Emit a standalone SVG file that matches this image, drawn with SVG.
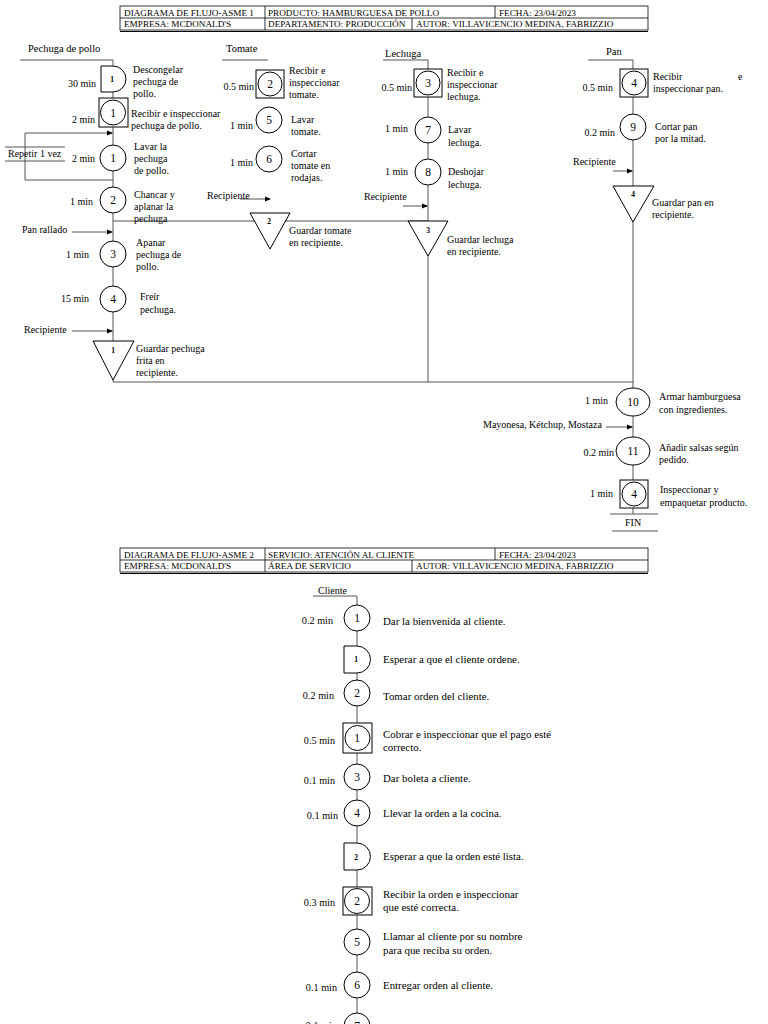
<svg xmlns="http://www.w3.org/2000/svg" width="768" height="1024" viewBox="0 0 768 1024">
<style>
text{font-family:"Liberation Serif","Times New Roman",serif;fill:#000}
.t{font-size:10px}
.t2{font-size:10.9px}
.h{font-size:9.2px}
.c{font-size:10.5px}
.r{font-size:10px;text-anchor:end}
.r2{font-size:10.2px;text-anchor:end}
.n{font-size:11.5px;text-anchor:middle}
.s{font-size:7.5px;font-weight:bold;text-anchor:middle}
.ln{stroke:#555;stroke-width:1;fill:none}
.sh{stroke:#000;stroke-width:1;fill:#fff}
.tb{stroke:#000;stroke-width:0.8;fill:none}
</style>
<defs>
<marker id="ar" markerWidth="6" markerHeight="6" refX="5" refY="3" orient="auto" markerUnits="userSpaceOnUse"><path d="M0,0.5 L6,3 L0,5.5 Z" fill="#000"/></marker>
</defs>
<rect width="768" height="1024" fill="#fff"/>

<g id="header1">
<rect class="tb" x="120" y="6" width="528" height="24"/>
<line class="tb" x1="120" y1="18" x2="648" y2="18"/>
<line class="tb" x1="265" y1="6" x2="265" y2="30"/>
<line class="tb" x1="495" y1="6" x2="495" y2="18"/>
<line class="tb" x1="412" y1="18" x2="412" y2="30"/>
<line stroke="#000" stroke-width="1.2" x1="120" y1="31.5" x2="648" y2="31.5"/>
<text class="h" x="124" y="15.5">DIAGRAMA DE FLUJO-ASME 1</text>
<text class="h" x="268" y="15.5">PRODUCTO: HAMBURGUESA DE POLLO</text>
<text class="h" x="499" y="15.5">FECHA: 23/04/2023</text>
<text class="h" x="124" y="27">EMPRESA: MCDONALD'S</text>
<text class="h" x="268" y="27">DEPARTAMENTO: PRODUCCIÓN</text>
<text class="h" x="416" y="27">AUTOR: VILLAVICENCIO MEDINA, FABRIZZIO</text>
</g>

<g id="connectors">
<polyline class="ln" points="20,60 113,60 113,382 633,382"/>
<polyline class="ln" points="222,60 268,60"/>
<polyline class="ln" points="383,60 428,60 428,382"/>
<polyline class="ln" points="588,60 633,60 633,514"/>
<line class="ln" x1="113" y1="221" x2="428" y2="221"/>
<polyline class="ln" points="113,180 25,180 25,133 112,133" marker-end="url(#ar)"/>
<line class="ln" x1="5" y1="147" x2="65" y2="147"/>
<line class="ln" x1="5" y1="161" x2="65" y2="161"/>
<line class="ln" x1="72" y1="232" x2="112" y2="232" marker-end="url(#ar)"/>
<line class="ln" x1="72" y1="331" x2="112" y2="331" marker-end="url(#ar)"/>
<line class="ln" x1="240" y1="199" x2="270" y2="199" marker-end="url(#ar)"/>
<line class="ln" x1="403" y1="206" x2="427" y2="206" marker-end="url(#ar)"/>
<line class="ln" x1="613" y1="171" x2="632" y2="171" marker-end="url(#ar)"/>
<line class="ln" x1="606" y1="427" x2="632" y2="427" marker-end="url(#ar)"/>
<line class="ln" x1="610" y1="514" x2="658" y2="514"/>
<line class="ln" x1="612" y1="531" x2="658" y2="531"/>
<polyline class="ln" points="313,596 357,596 357,1024"/>
</g>

<g id="labels1">
<text class="c" x="28" y="52">Pechuga de pollo</text>
<text class="c" x="226" y="52">Tomate</text>
<text class="c" x="385" y="57">Lechuga</text>
<text class="c" x="606" y="55">Pan</text>
<text class="t" x="8" y="157">Repetir 1 vez</text>
<text class="t" x="22" y="233">Pan rallado</text>
<text class="t" x="24" y="333">Recipiente</text>
<text class="t" x="207" y="199">Recipiente</text>
<text class="t" x="364" y="200">Recipiente</text>
<text class="t" x="573" y="165">Recipiente</text>
<text class="t" x="483" y="428">Mayonesa, Kétchup, Mostaza</text>
<text class="t" x="625" y="526">FIN</text>
</g>

<g id="p-desc">
<path class="sh" d="M101,66 H113 A13,13 0 0 1 113,92 H101 Z"/>
<text class="s" x="112" y="82">1</text>
<text class="r" x="96" y="87">30 min</text>
<text class="t" x="133" y="73">Descongelar</text><text class="t" x="133" y="85">pechuga de</text><text class="t" x="133" y="97">pollo.</text>
</g>
<g id="p-insp1">
<rect class="sh" x="99" y="98" width="29" height="29"/><circle class="sh" cx="113" cy="112.5" r="12.5"/>
<text class="n" x="113" y="116.5">1</text>
<text class="r" x="95" y="123">2 min</text>
<text class="t" x="131" y="117">Recibir e inspeccionar</text><text class="t" x="131" y="129">pechuga de pollo.</text>
</g>
<g id="p-op1">
<circle class="sh" cx="113" cy="158" r="13"/><text class="n" x="113" y="162">1</text>
<text class="r" x="95" y="162">2 min</text>
<text class="t" x="134" y="150">Lavar la</text><text class="t" x="134" y="162">pechuga</text><text class="t" x="134" y="174">de pollo.</text>
</g>
<g id="p-op2">
<circle class="sh" cx="113" cy="200" r="13"/><text class="n" x="113" y="204">2</text>
<text class="r" x="93" y="205">1 min</text>
<text class="t" x="134" y="198">Chancar y</text><text class="t" x="134" y="210">aplanar la</text><text class="t" x="134" y="222">pechuga</text>
</g>
<g id="p-op3">
<circle class="sh" cx="113" cy="254" r="13"/><text class="n" x="113" y="258">3</text>
<text class="r" x="89" y="258">1 min</text>
<text class="t" x="136" y="246">Apanar</text><text class="t" x="136" y="258">pechuga de</text><text class="t" x="136" y="270">pollo.</text>
</g>
<g id="p-op4">
<circle class="sh" cx="113" cy="299" r="13"/><text class="n" x="113" y="303">4</text>
<text class="r" x="89" y="302">15 min</text>
<text class="t" x="140" y="300">Freír</text><text class="t" x="140" y="313">pechuga.</text>
</g>
<g id="p-alm1">
<polygon class="sh" points="93,341 134,341 113,380"/><text class="s" x="113" y="353">1</text>
<text class="t" x="136" y="352">Guardar pechuga</text><text class="t" x="136" y="364">frita en</text><text class="t" x="136" y="376">recipiente.</text>
</g>

<g id="t-insp2">
<rect class="sh" x="256" y="70" width="28" height="28"/><circle class="sh" cx="270" cy="84" r="12"/>
<text class="n" x="270" y="88">2</text>
<text class="r" x="254" y="90">0.5 min</text>
<text class="t" x="289" y="74">Recibir e</text><text class="t" x="289" y="86">inspeccionar</text><text class="t" x="289" y="98">tomate.</text>
</g>
<g id="t-op5">
<circle class="sh" cx="269" cy="120" r="13"/><text class="n" x="269" y="124">5</text>
<text class="r" x="253" y="129">1 min</text>
<text class="t" x="291" y="123">Lavar</text><text class="t" x="291" y="135">tomate.</text>
</g>
<g id="t-op6">
<circle class="sh" cx="269" cy="159" r="13"/><text class="n" x="269" y="163">6</text>
<text class="r" x="253" y="166">1 min</text>
<text class="t" x="291" y="157">Cortar</text><text class="t" x="291" y="169">tomate en</text><text class="t" x="291" y="181">rodajas.</text>
</g>
<g id="t-alm2">
<polygon class="sh" points="250,213 290,213 270,249"/><text class="s" x="269" y="224">2</text>
<text class="t" x="289" y="234">Guardar tomate</text><text class="t" x="289" y="246">en recipiente.</text>
</g>

<g id="l-insp3">
<rect class="sh" x="414" y="69" width="28" height="28"/><circle class="sh" cx="428" cy="83" r="12"/>
<text class="n" x="428" y="87">3</text>
<text class="r" x="412" y="91">0.5 min</text>
<text class="t" x="447" y="76">Recibir e</text><text class="t" x="447" y="88">inspeccionar</text><text class="t" x="447" y="100">lechuga.</text>
</g>
<g id="l-op7">
<circle class="sh" cx="428" cy="130" r="13"/><text class="n" x="428" y="134">7</text>
<text class="r" x="408" y="132">1 min</text>
<text class="t" x="448" y="133">Lavar</text><text class="t" x="448" y="146">lechuga.</text>
</g>
<g id="l-op8">
<circle class="sh" cx="428" cy="172" r="13"/><text class="n" x="428" y="176">8</text>
<text class="r" x="408" y="175">1 min</text>
<text class="t" x="448" y="175">Deshojar</text><text class="t" x="448" y="188">lechuga.</text>
</g>
<g id="l-alm3">
<polygon class="sh" points="408,221 448,221 428,256"/><text class="s" x="428" y="233">3</text>
<text class="t" x="447" y="243">Guardar lechuga</text><text class="t" x="447" y="255">en recipiente.</text>
</g>

<g id="b-insp4">
<rect class="sh" x="620" y="69" width="28" height="28"/><circle class="sh" cx="634" cy="83" r="12"/>
<text class="n" x="634" y="87">4</text>
<text class="r" x="613" y="91">0.5 min</text>
<text class="t" x="653" y="80">Recibir</text><text class="t" x="738" y="80">e</text><text class="t" x="653" y="92">inspeccionar pan.</text>
</g>
<g id="b-op9">
<circle class="sh" cx="633" cy="127" r="13"/><text class="n" x="633" y="131">9</text>
<text class="r" x="615" y="136">0.2 min</text>
<text class="t" x="655" y="130">Cortar pan</text><text class="t" x="655" y="142">por la mitad.</text>
</g>
<g id="b-alm4">
<polygon class="sh" points="613,186 654,186 633,222"/><text class="s" x="633" y="197">4</text>
<text class="t" x="652" y="206">Guardar pan en</text><text class="t" x="652" y="218">recipiente.</text>
</g>

<g id="a-op10">
<ellipse class="sh" cx="633" cy="402" rx="17" ry="14"/><text class="n" x="633" y="406">10</text>
<text class="r" x="608" y="404">1 min</text>
<text class="t" x="659" y="400">Armar hamburguesa</text><text class="t" x="659" y="413">con ingredientes.</text>
</g>
<g id="a-op11">
<ellipse class="sh" cx="633" cy="451" rx="17" ry="14"/><text class="n" x="633" y="455">11</text>
<text class="r" x="614" y="456">0.2 min</text>
<text class="t" x="659" y="451">Añadir salsas según</text><text class="t" x="659" y="463">pedido.</text>
</g>
<g id="a-insp4">
<rect class="sh" x="620" y="480" width="28" height="28"/><circle class="sh" cx="634" cy="494" r="12"/>
<text class="n" x="634" y="498">4</text>
<text class="r" x="613" y="497">1 min</text>
<text class="t" x="660" y="493">Inspeccionar y</text><text class="t" x="660" y="506">empaquetar producto.</text>
</g>

<g id="header2">
<rect class="tb" x="120" y="548" width="528" height="24"/>
<line class="tb" x1="120" y1="560" x2="648" y2="560"/>
<line class="tb" x1="265" y1="548" x2="265" y2="572"/>
<line class="tb" x1="495" y1="548" x2="495" y2="560"/>
<line class="tb" x1="412" y1="560" x2="412" y2="572"/>
<line stroke="#000" stroke-width="1.2" x1="120" y1="573.5" x2="648" y2="573.5"/>
<text class="h" x="124" y="557.5">DIAGRAMA DE FLUJO-ASME 2</text>
<text class="h" x="268" y="557.5">SERVICIO: ATENCIÓN AL CLIENTE</text>
<text class="h" x="499" y="557.5">FECHA: 23/04/2023</text>
<text class="h" x="124" y="569">EMPRESA: MCDONALD'S</text>
<text class="h" x="268" y="569">ÁREA DE SERVICIO</text>
<text class="h" x="416" y="569">AUTOR: VILLAVICENCIO MEDINA, FABRIZZIO</text>
</g>

<text class="t" x="318" y="594">Cliente</text>

<g id="c-op1">
<circle class="sh" cx="357" cy="618" r="13"/><text class="n" x="357" y="622">1</text>
<text class="r2" x="333" y="624">0.2 min</text>
<text class="t2" x="383" y="625">Dar la bienvenida al cliente.</text>
</g>
<g id="c-d1">
<path class="sh" d="M344,646 H357 A13.5,13.5 0 0 1 357,673 H344 Z"/><text class="s" x="356" y="662">1</text>
<text class="t2" x="383" y="663">Esperar a que el cliente ordene.</text>
</g>
<g id="c-op2">
<circle class="sh" cx="357" cy="693" r="13"/><text class="n" x="357" y="697">2</text>
<text class="r2" x="334" y="699">0.2 min</text>
<text class="t2" x="383" y="700">Tomar orden del cliente.</text>
</g>
<g id="c-insp1">
<rect class="sh" x="343" y="723" width="29" height="30"/><circle class="sh" cx="357.5" cy="738" r="12.5"/>
<text class="n" x="357" y="742">1</text>
<text class="r2" x="335" y="744">0.5 min</text>
<text class="t2" x="383" y="738">Cobrar e inspeccionar que el pago esté</text><text class="t2" x="383" y="751">correcto.</text>
</g>
<g id="c-op3">
<circle class="sh" cx="357" cy="777" r="13"/><text class="n" x="357" y="781">3</text>
<text class="r2" x="335" y="784">0.1 min</text>
<text class="t2" x="383" y="782">Dar boleta a cliente.</text>
</g>
<g id="c-op4">
<circle class="sh" cx="357" cy="813" r="13"/><text class="n" x="357" y="817">4</text>
<text class="r2" x="338" y="819">0.1 min</text>
<text class="t2" x="383" y="817">Llevar la orden a la cocina.</text>
</g>
<g id="c-d2">
<path class="sh" d="M344,843 H357 A13.5,13.5 0 0 1 357,870 H344 Z"/><text class="s" x="356" y="860">2</text>
<text class="t2" x="383" y="860">Esperar a que la orden esté lista.</text>
</g>
<g id="c-insp2">
<rect class="sh" x="343" y="887" width="29" height="28"/><circle class="sh" cx="357" cy="901" r="12.5"/>
<text class="n" x="357" y="905">2</text>
<text class="r2" x="335" y="906">0.3 min</text>
<text class="t2" x="383" y="898">Recibir la orden e inspeccionar</text><text class="t2" x="383" y="911">que esté correcta.</text>
</g>
<g id="c-op5">
<circle class="sh" cx="357" cy="942" r="13"/><text class="n" x="357" y="946">5</text>
<text class="t2" x="383" y="940">Llamar al cliente por su nombre</text><text class="t2" x="383" y="954">para que reciba su orden.</text>
</g>
<g id="c-op6">
<circle class="sh" cx="357" cy="985" r="13"/><text class="n" x="357" y="989">6</text>
<text class="r2" x="337" y="991">0.1 min</text>
<text class="t2" x="383" y="989">Entregar orden al cliente.</text>
</g>
<g id="c-op7">
<circle class="sh" cx="357" cy="1026" r="13"/><text class="n" x="357" y="1030">7</text>
<text class="r2" x="337" y="1029">0.1 min</text>
</g>
</svg>
